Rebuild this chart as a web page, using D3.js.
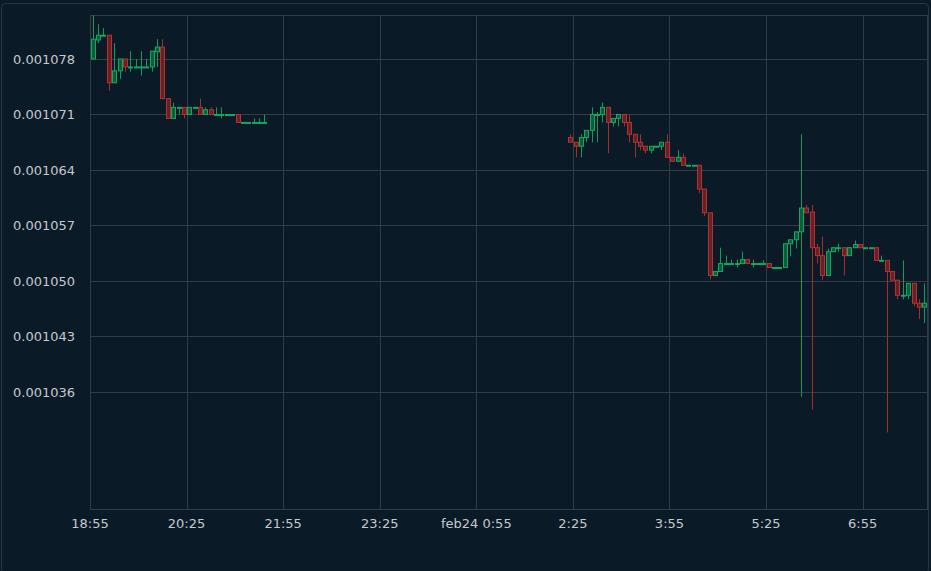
<!DOCTYPE html>
<html>
<head>
<meta charset="utf-8">
<script src="https://cdn.jsdelivr.net/npm/d3@7"></script>
<style>
  body { margin: 0; background: #0b1a27; }
  svg { display: block; }
</style>
</head>
<body>
<svg id="chart" width="931" height="571"></svg>
<script>
// prices are in millionths (1071.0 -> 0.0010710)
// each row: open, high, low, close ; bars are 5 minutes apart
const eveningStart = new Date(2024, 1, 23, 18, 55);
const eveningBars = [
  [1078.0,1083.5,1078.0,1080.5],[1080.4,1082.4,1080.0,1081.0],[1080.9,1081.9,1080.9,1081.0],
  [1081.0,1081.0,1074.0,1075.0],[1075.0,1080.0,1075.0,1076.5],[1076.5,1078.0,1075.5,1078.0],
  [1078.0,1078.0,1076.4,1077.0],[1077.0,1079.0,1076.4,1077.0],[1077.0,1078.0,1077.0,1077.0],
  [1077.0,1079.0,1075.9,1077.0],[1077.0,1078.0,1077.0,1077.0],[1077.0,1079.0,1076.4,1079.0],
  [1078.9,1080.5,1077.0,1079.5],[1079.5,1080.5,1073.0,1073.0],[1073.0,1073.0,1070.5,1070.5],
  [1070.5,1072.5,1070.5,1071.9],[1071.9,1071.9,1071.0,1071.9],[1071.9,1071.9,1070.5,1071.0],
  [1071.0,1071.9,1071.0,1071.9],[1071.9,1071.9,1071.9,1071.9],[1071.9,1073.0,1071.0,1071.0],
  [1071.0,1071.9,1071.0,1071.6],[1071.6,1071.9,1071.0,1071.0],[1071.0,1071.9,1071.0,1071.0],
  [1071.0,1071.9,1070.5,1071.0],[1071.0,1071.0,1071.0,1071.0],[1071.0,1071.0,1071.0,1071.0],
  [1071.0,1071.0,1070.0,1070.0],[1070.0,1070.0,1070.0,1070.0],[1070.0,1070.0,1070.0,1070.0],
  [1070.0,1070.5,1070.0,1070.0],[1070.0,1070.5,1070.0,1070.0],[1070.0,1071.0,1070.0,1070.0]
];
const morningStart = new Date(2024, 1, 24, 2, 20);
const morningBars = [
  [1068.1,1068.5,1067.5,1067.5],[1067.5,1067.5,1065.6,1067.0],[1067.0,1068.5,1065.6,1068.1],
  [1068.1,1069.0,1067.5,1069.0],[1069.0,1071.9,1067.5,1071.0],[1071.0,1071.3,1067.5,1071.0],
  [1071.0,1072.5,1070.0,1071.9],[1071.9,1071.9,1066.1,1070.0],[1070.0,1070.5,1069.5,1070.5],
  [1070.5,1071.0,1069.5,1071.0],[1071.0,1071.0,1069.5,1070.0],[1070.0,1071.0,1067.5,1068.5],
  [1068.5,1068.5,1065.6,1067.5],[1067.5,1068.5,1066.5,1067.0],[1067.0,1067.0,1066.1,1066.5],
  [1066.5,1067.0,1066.1,1067.0],[1067.0,1067.0,1067.0,1067.0],[1067.0,1067.5,1066.5,1067.5],
  [1067.5,1068.5,1065.6,1065.6],[1065.6,1065.6,1065.1,1065.1],[1065.1,1066.5,1065.1,1065.6],
  [1065.6,1066.1,1064.6,1064.6],[1064.6,1064.6,1064.6,1064.6],[1064.6,1064.6,1064.6,1064.6],
  [1064.6,1064.6,1061.1,1061.6],[1061.6,1061.6,1058.2,1058.6],[1058.6,1058.6,1050.2,1050.7],
  [1050.7,1051.2,1050.7,1051.2],[1051.2,1054.2,1051.2,1052.2],[1052.2,1053.2,1052.2,1052.2],
  [1052.2,1052.7,1052.2,1052.2],[1052.2,1052.7,1051.7,1052.2],[1052.2,1053.7,1052.2,1052.7],
  [1052.7,1052.7,1052.2,1052.2],[1052.2,1052.7,1051.7,1052.2],[1052.2,1052.2,1052.2,1052.2],
  [1052.2,1052.6,1052.2,1052.2],[1052.2,1052.2,1051.7,1051.7],[1051.7,1051.7,1051.7,1051.7],
  [1051.7,1051.7,1051.7,1051.7],[1051.7,1054.7,1051.7,1054.7],[1054.7,1055.2,1053.1,1055.2],
  [1055.2,1056.2,1054.1,1056.2],[1056.2,1068.5,1035.4,1059.2],[1059.2,1059.6,1058.6,1058.6],
  [1058.7,1059.6,1033.8,1054.2],[1054.2,1054.7,1052.2,1053.2],[1053.2,1055.6,1050.1,1050.7],
  [1050.7,1054.1,1050.7,1053.7],[1053.7,1054.2,1053.7,1054.2],[1054.2,1054.7,1053.7,1054.2],
  [1054.2,1054.2,1050.7,1053.2],[1053.2,1054.2,1053.2,1054.2],[1054.2,1055.1,1054.2,1054.6],
  [1054.6,1054.6,1054.2,1054.2],[1054.2,1054.2,1054.2,1054.2],[1054.2,1054.2,1054.2,1054.2],
  [1054.2,1054.2,1052.6,1052.6],[1052.6,1053.2,1052.6,1052.6],[1052.6,1052.6,1030.9,1051.2],
  [1051.2,1051.2,1050.1,1050.1],[1050.1,1050.1,1047.7,1048.2],[1048.2,1052.6,1047.7,1048.2],
  [1048.2,1049.7,1047.7,1049.7],[1049.7,1049.7,1046.8,1047.2],[1047.2,1047.7,1045.2,1046.7],
  [1046.7,1049.7,1044.7,1047.2]
];
const priceTicks = [1036, 1043, 1050, 1057, 1064, 1071, 1078];
const timeTicks = ["18:55", "20:25", "21:55", "23:25", "0:55", "2:25", "3:55", "5:25", "6:55"];

const plotLeft = 90, plotRight = 927, plotTop = 15, plotBottom = 509;
const svg = d3.select("#chart");

const toBars = (start, rows) => rows.map((r, i) => ({
  t: new Date(start.getTime() + (i * 5 + 2.5) * 60000),
  o: r[0], h: r[1], l: r[2], c: r[3]
}));
const bars = toBars(eveningStart, eveningBars).concat(toBars(morningStart, morningBars));

const x = d3.scaleTime()
  .domain([eveningStart, new Date(2024, 1, 24, 7, 55)])
  .range([plotLeft, plotRight]);
const y = d3.scaleLinear()
  .domain([1036 - (509 - 392) * 7 / 55.5, 1078 + (59 - 15) * 7 / 55.5])
  .range([plotBottom, plotTop]);

// outer frame
svg.append("rect").attr("x", 1.5).attr("y", 3.5).attr("width", 927).attr("height", 570)
  .attr("rx", 4).attr("fill", "none").attr("stroke", "#2a3644");

// grid
const grid = svg.append("g").attr("stroke", "#343c47").attr("stroke-width", 1);
const tickDates = timeTicks.map((s, i) => new Date(eveningStart.getTime() + i * 90 * 60000));
grid.selectAll(".vx").data(tickDates).join("line")
  .attr("x1", d => Math.round(x(d)) + 0.5).attr("x2", d => Math.round(x(d)) + 0.5)
  .attr("y1", plotTop).attr("y2", plotBottom);
grid.selectAll(".hy").data(priceTicks).join("line")
  .attr("x1", plotLeft).attr("x2", plotRight)
  .attr("y1", d => Math.round(y(d)) + 0.5).attr("y2", d => Math.round(y(d)) + 0.5);
svg.append("rect").attr("x", plotLeft + 0.5).attr("y", plotTop + 0.5)
  .attr("width", plotRight - plotLeft).attr("height", plotBottom - plotTop)
  .attr("fill", "none").attr("stroke", "#343c47");

// labels
svg.append("g").selectAll("text").data(priceTicks).join("text")
  .attr("x", 13).attr("y", d => y(d) + 4.5)
  .attr("fill", "#c5c9cf").attr("font-family", "DejaVu Sans").attr("font-size", 13)
  .text(d => (d / 1e6).toFixed(6));
svg.append("g").selectAll("text").data(tickDates).join("text")
  .attr("x", d => x(d)).attr("y", plotBottom + 19).attr("text-anchor", "middle")
  .attr("fill", "#c5c9cf").attr("font-family", "DejaVu Sans").attr("font-size", 13)
  .text((d, i) => (i === 4 ? "feb24 " : "") + timeTicks[i]);

// candles
const up = d => d.c >= d.o;
const candles = svg.append("g").selectAll("g").data(bars).join("g");
candles.append("line")
  .attr("x1", d => Math.round(x(d.t)) + 0.5).attr("x2", d => Math.round(x(d.t)) + 0.5)
  .attr("y1", d => y(d.h)).attr("y2", d => y(d.l))
  .attr("stroke", d => up(d) ? "#0f9d58" : "#a1302f").attr("stroke-width", 1);
candles.append("rect")
  .attr("x", d => Math.round(x(d.t)) - 1.5)
  .attr("y", d => y(Math.max(d.o, d.c)))
  .attr("width", 4)
  .attr("height", d => Math.max(1, y(Math.min(d.o, d.c)) - y(Math.max(d.o, d.c))))
  .attr("fill", d => up(d) ? "#0b5e3c" : "#6a1f24")
  .attr("stroke", d => up(d) ? "#12a862" : "#b03434").attr("stroke-width", 1);
</script>
</body>
</html>
